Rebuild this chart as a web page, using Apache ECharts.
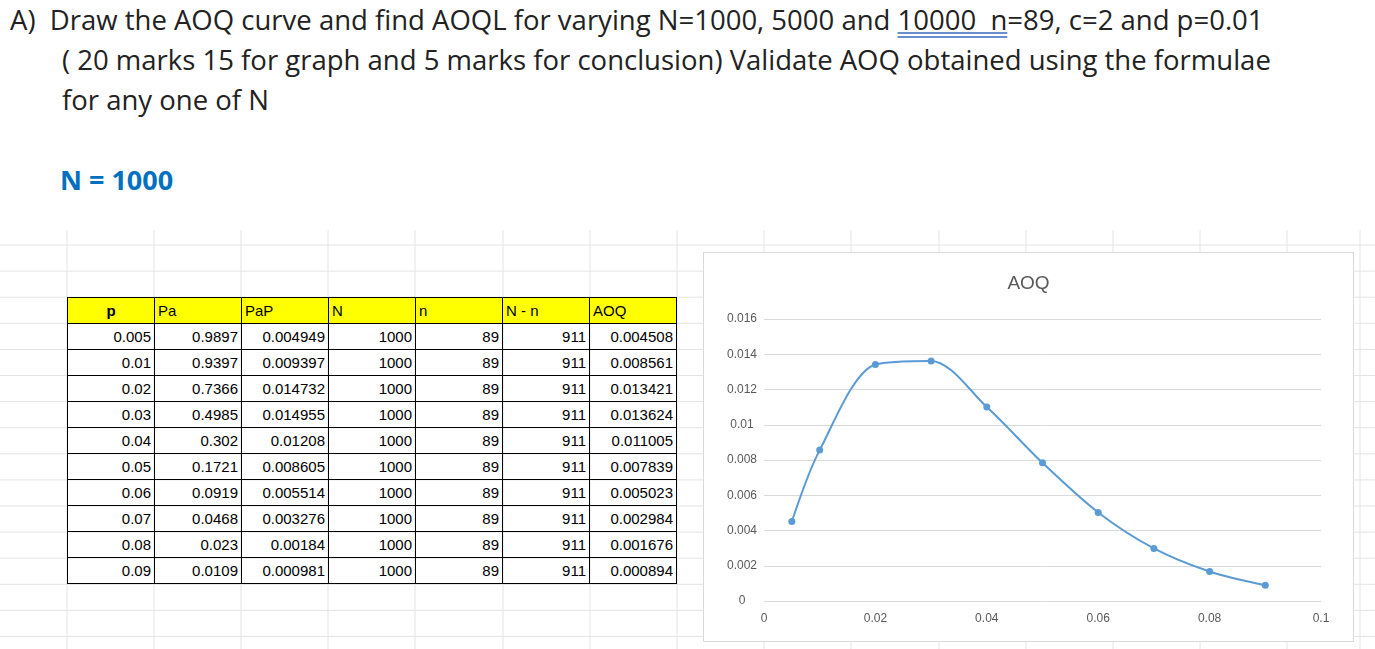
<!DOCTYPE html>
<html><head><meta charset="utf-8">
<script src="https://cdn.jsdelivr.net/npm/echarts@6/dist/echarts.min.js"></script>
<style>
body{margin:0;width:1375px;height:649px;background:#fff;position:relative;overflow:hidden;font-family:"Open Sans","Noto Sans",sans-serif;}
.h{position:absolute;left:62px;font-size:27.5px;color:#222;white-space:nowrap;}
#grid{position:absolute;left:0;top:0;width:1375px;height:649px;}
table{position:absolute;left:67px;top:297px;border-collapse:collapse;table-layout:fixed;width:610px;font-family:"Liberation Sans",Arial,sans-serif;font-size:15px;}
td{border:1px solid #000;height:26px;padding:0 3px;width:87px;text-align:right;box-sizing:border-box;}
tr.hd td{background:#ffff00;text-align:left;}
#chart{position:absolute;left:703px;top:252px;width:649px;height:388px;border:1px solid #d9d9d9;background:#fff;}
</style></head><body>
<svg id="grid"></svg>
<div class="h" style="top:1px;left:10px">A)&nbsp;&nbsp;Draw the AOQ curve and find AOQL for varying N=1000, 5000 and <u style="text-decoration-style:double;text-decoration-color:#6a8fd0">10000&nbsp;&nbsp;n</u>=89, c=2 and p=0.01</div>
<div class="h" style="top:41px">( 20 marks 15 for graph and 5 marks for conclusion) Validate AOQ obtained using the formulae</div>
<div class="h" style="top:81px">for any one of N</div>
<div class="h" style="top:161px;left:60px;color:#0070c0;font-weight:bold;font-size:27px">N = 1000</div>
<table id="tbl"></table>
<div id="chart"></div>
<script>
const headers=["p","Pa","PaP","N","n","N - n","AOQ"];
const pVals=[0.005,0.01,0.02,0.03,0.04,0.05,0.06,0.07,0.08,0.09];
const paVals=["0.9897","0.9397","0.7366","0.4985","0.302","0.1721","0.0919","0.0468","0.023","0.0109"];
const papVals=["0.004949","0.009397","0.014732","0.014955","0.01208","0.008605","0.005514","0.003276","0.00184","0.000981"];
const NVal=1000, nVal=89, NnVal=911;
const aoqVals=[0.004508,0.008561,0.013421,0.013624,0.011005,0.007839,0.005023,0.002984,0.001676,0.000894];
let s='';
const cols=[67,154,241,328,415,503,590,677,764,851,939,1026,1113,1200,1287,1360];
cols.forEach(x=>s+=`<line x1="${x}" y1="230" x2="${x}" y2="649" stroke="#e4e4e4"/>`);
for(let y=245;y<649;y+=26.1)s+=`<line x1="0" y1="${y}" x2="1375" y2="${y}" stroke="#e4e4e4"/>`;
document.getElementById('grid').innerHTML=s;
let t='<tr class="hd">'+headers.map((h,i)=>`<td style="${i==0?'text-align:center;font-weight:bold':''}">${h}</td>`).join('')+'</tr>';
pVals.forEach((p,i)=>{t+=`<tr><td>${p}</td><td>${paVals[i]}</td><td>${papVals[i]}</td><td>${NVal}</td><td>${nVal}</td><td>${NnVal}</td><td>${aoqVals[i]}</td></tr>`;});
document.getElementById('tbl').innerHTML=t;
const c=echarts.init(document.getElementById('chart'));
c.setOption({animation:false,
title:{text:'AOQ',left:'center',top:16,textStyle:{color:'#595959',fontSize:19,fontWeight:'normal',fontFamily:'Liberation Sans'}},
grid:{left:60,right:32,top:66,bottom:40},
xAxis:{type:'value',min:0,max:0.1,interval:0.02,axisLine:{show:false},axisTick:{show:false},splitLine:{show:false},axisLabel:{color:'#595959',fontSize:12,margin:12}},
yAxis:{type:'value',min:0,max:0.016,interval:0.002,axisLine:{show:false},axisTick:{show:false},splitLine:{lineStyle:{color:'#d9d9d9'}},axisLabel:{color:'#595959',fontSize:12,margin:22,align:'center'}},
series:[{type:'line',smooth:0.3,data:pVals.map((p,i)=>[p,aoqVals[i]]),symbol:'circle',symbolSize:7,itemStyle:{color:'#5b9bd5'},lineStyle:{color:'#5b9bd5',width:2}}]});
</script></body></html>
